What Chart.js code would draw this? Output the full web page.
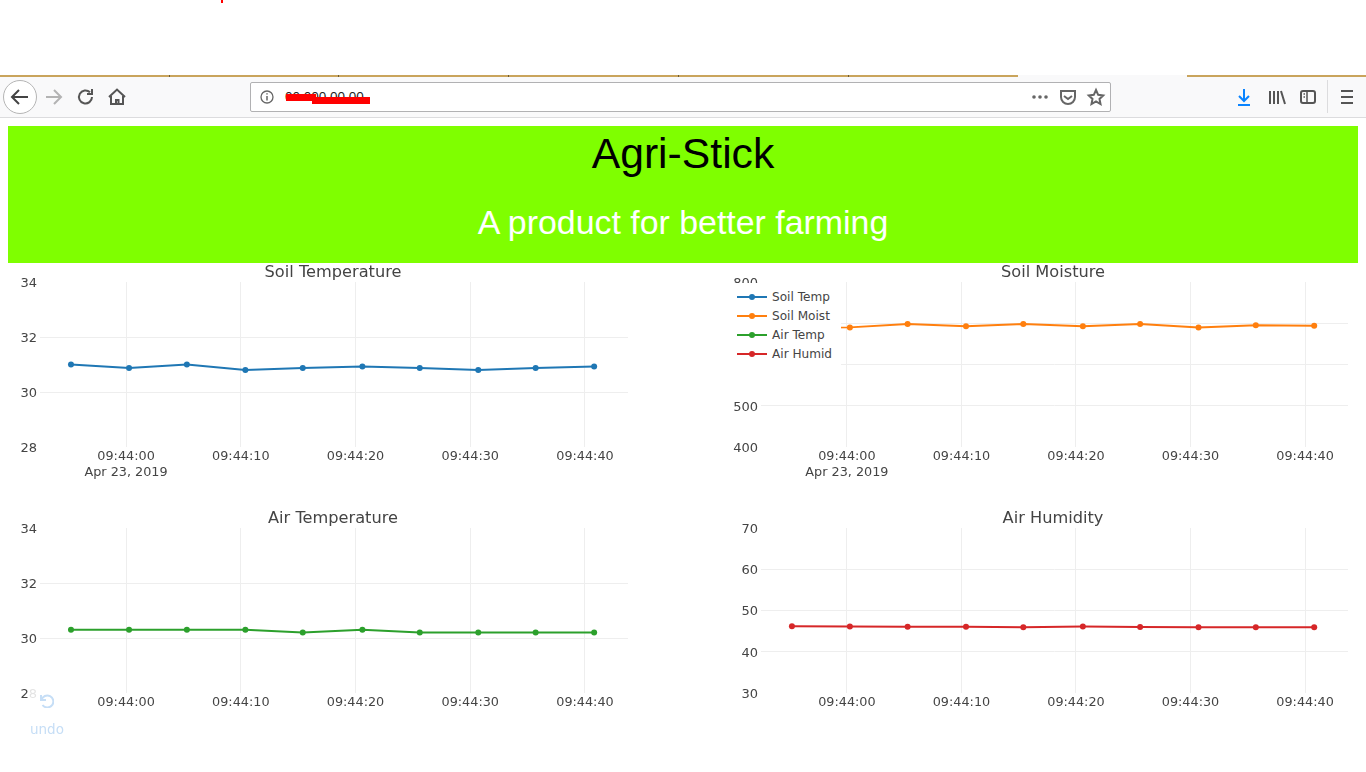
<!DOCTYPE html>
<html>
<head>
<meta charset="utf-8">
<title>Agri-Stick</title>
<script src="https://cdn.jsdelivr.net/npm/chart.js@4"></script>
<style>
html, body { margin: 0; padding: 0; background: #fff; overflow: hidden; }
body { position: relative; width: 1366px; height: 772px; font-family: "DejaVu Sans", sans-serif; }
.abs { position: absolute; }
canvas.panel { position: absolute; }
#speck { left: 221px; top: 0; width: 2px; height: 3px; background: #f00; }
#tab-line { left: 0; top: 75px; width: 1366px; height: 2px; background: #c9a45c; }
#tab-gap { left: 1018px; top: 75px; width: 169px; height: 2px; background: #f9f9fa; }
.tab-tick { top: 75px; width: 1px; height: 2px; background: #6b5a33; }
#toolbar { left: 0; top: 77px; width: 1366px; height: 40px; background: #f9f9fa; border-bottom: 1px solid #dcdcde; }
#urlbar { left: 250px; top: 82px; width: 859px; height: 28px; background: #fff; border: 1px solid #b1b1b3; border-radius: 2px; }
#urltext { left: 285px; top: 89px; font: 13.500px "Liberation Sans", sans-serif; color: #222; }
#banner { left: 8px; top: 126px; width: 1350px; height: 137px; background: #7fff00; text-align: center; font-family: "Liberation Sans", Arial, sans-serif; }
#banner h1 { position: absolute; left: 0; right: 0; top: -1px; margin: 0; font-size: 42.700px; line-height: 56px; font-weight: normal; color: #000; }
#banner h2 { position: absolute; left: 0; right: 0; top: 73px; margin: 0; font-size: 33.900px; line-height: 46px; font-weight: normal; color: #fff; }
#legend { left: 733px; top: 283px; width: 108px; height: 90px; background: #fff; font-size: 12.100px; color: #444; }
#legend div { position: absolute; left: 39px; white-space: nowrap; line-height: 16px; }
#legend svg { position: absolute; left: 4px; top: 0; }
#undo-box { left: 28px; top: 684px; width: 34px; height: 56px; background: rgba(255,255,255,.85); }
#undo-text { left: 30px; top: 721px; width: 32px; text-align: center; font-size: 13.500px; color: #c6def6; }
</style>
</head>
<body>
<div class="abs" id="speck"></div>
<div class="abs" id="tab-line"></div>
<div class="abs" id="tab-gap"></div>
<div class="abs tab-tick" style="left:169px"></div>
<div class="abs tab-tick" style="left:338px"></div>
<div class="abs tab-tick" style="left:508px"></div>
<div class="abs tab-tick" style="left:678px"></div>
<div class="abs tab-tick" style="left:848px"></div>
<div class="abs" id="toolbar"></div>
<div class="abs" id="urlbar"></div>
<div class="abs" id="urltext">00.000.00.00</div>

<svg class="abs" style="left:0;top:76px" width="1366" height="42" fill="none" stroke="#555" stroke-width="2">
  <circle cx="20" cy="21" r="16.500" fill="#fff" stroke="#b5b5b5" stroke-width="1"/>
  <path d="M28 21H12M19 14l-7 7 7 7" stroke="#444"/>
  <path d="M61 21H46M54 14l7 7-7 7" stroke="#b3b3b3"/>
  <path d="M92 21a6.500 6.500 0 1 1-2-4.700M92 13v5h-5"/>
  <path d="M109 21l8-7.500 8 7.500M111 20v8h12v-8M116 28v-4h2.500v4"/>
  <circle cx="267" cy="21" r="6" stroke="#666" stroke-width="1.300"/>
  <path d="M267 20v4.500M267 17.300v1.200" stroke="#666" stroke-width="1.500"/>
  <path d="M286 21.500H316" stroke="#f00" stroke-width="7"/>
  <path d="M312 24.500H370" stroke="#f00" stroke-width="7"/>
  <circle cx="1034" cy="21" r="1.800" fill="#666" stroke="none"/>
  <circle cx="1040" cy="21" r="1.800" fill="#666" stroke="none"/>
  <circle cx="1046" cy="21" r="1.800" fill="#666" stroke="none"/>
  <path d="M1061 15h14v6a7 7 0 0 1-14 0zM1064 20l4 3 4-3" stroke="#666"/>
  <path d="M1096 14l2.200 4.800 5 .6-3.700 3.500 1 5.100-4.500-2.600-4.500 2.600 1-5.100-3.700-3.500 5-.6z" stroke="#666"/>
  <path d="M1244 13v12M1239 20l5 5 5-5M1238 29h12" stroke="#0a84ff"/>
  <path d="M1270 15v13M1274 15v13M1278 15v13M1281 15l4 13" stroke="#555"/>
  <rect x="1301" y="15" width="14" height="12" rx="2"/>
  <path d="M1307 15v12M1303.500 18h1.500M1303.500 21h1.500" stroke-width="1.500"/>
  <path d="M1327.500 4v33" stroke="#dcdcde" stroke-width="1"/>
  <path d="M1341 15h12M1341 21h12M1341 27h12"/>
</svg>

<div class="abs" id="banner">
  <h1>Agri-Stick</h1>
  <h2>A product for better farming</h2>
</div>

<canvas class="panel" id="soilTempChart"></canvas>
<canvas class="panel" id="soilMoistChart"></canvas>
<canvas class="panel" id="airTempChart"></canvas>
<canvas class="panel" id="airHumidChart"></canvas>

<div class="abs" id="legend"></div>

<div class="abs" id="undo-box"></div>
<svg class="abs" style="left:38px;top:692px" width="16" height="16" fill="none" stroke="#c6def6" stroke-width="2">
  <path d="M3 3v5h5M3.500 8a6 6 0 1 1 1 5"/>
</svg>
<div class="abs" id="undo-text">undo</div>

<script>
'use strict';
const sampleSeconds = [-4.8, 0.26, 5.3, 10.4, 15.4, 20.6, 25.6, 30.7, 35.7, 40.8];
const soilTemp = [31, 30.87, 31, 30.8, 30.87, 30.93, 30.87, 30.8, 30.87, 30.93];
const soilMoist = [689, 690, 698, 693, 698, 693, 698, 690, 695, 694];
const airTemp = [30.3, 30.3, 30.3, 30.3, 30.2, 30.3, 30.2, 30.2, 30.2, 30.2];
const airHumid = [46.2, 46.1, 46.05, 46.05, 45.95, 46.1, 46, 45.95, 45.95, 45.95];
const xTickLabels = ['09:44:00', '09:44:10', '09:44:20', '09:44:30', '09:44:40'];
const dateLabel = 'Apr 23, 2019';
const legendNames = ['Soil Temp', 'Soil Moist', 'Air Temp', 'Air Humid'];
const legendColors = ['#1f77b4', '#ff7f0e', '#2ca02c', '#d62728'];

const TEXT = '#444';
const GRID = '#eeeeee';
Chart.defaults.font.family = "'DejaVu Sans', sans-serif";
Chart.defaults.color = TEXT;
Chart.defaults.animation = false;

function makePanel(id, cfg) {
    const el = document.getElementById(id);
    el.style.left = cfg.left + 'px';
    el.style.top = cfg.top + 'px';
    el.style.width = '666px';
    el.style.height = '219px';
    new Chart(el, {
        type: 'line',
        data: {
            datasets: [{
                data: cfg.values.map((v, i) => ({ x: sampleSeconds[i], y: v })),
                borderColor: cfg.color,
                backgroundColor: cfg.color,
                borderWidth: 2,
                pointRadius: 3,
                pointBorderWidth: 0,
                tension: 0,
            }],
        },
        options: {
            responsive: false,
            layout: { padding: 0 },
            plugins: {
                legend: { display: false },
                tooltip: { enabled: false },
                title: {
                    display: true,
                    text: cfg.title,
                    color: TEXT,
                    padding: { top: 1, bottom: -1 },
                    font: { size: 16.2, weight: 'normal', lineHeight: '20px' },
                },
            },
            scales: {
                x: {
                    type: 'linear',
                    min: -7.5,
                    max: 43.75,
                    afterFit: s => { s.height = 34; },
                    border: { display: false },
                    grid: { color: GRID, drawTicks: false },
                    ticks: {
                        stepSize: 10,
                        includeBounds: false,
                        autoSkip: false,
                        maxRotation: 0,
                        padding: 2,
                        font: { size: 12.8, lineHeight: '16px' },
                        callback: v => {
                            const label = xTickLabels[v / 10];
                            return cfg.showDate && v === 0 ? [label, dateLabel] : label;
                        },
                    },
                },
                y: {
                    min: cfg.min,
                    max: cfg.max,
                    afterFit: s => { s.width = cfg.axisWidth; },
                    border: { display: false },
                    grid: {
                        drawTicks: false,
                        color: c => (c.tick.value === cfg.min || c.tick.value === cfg.max ? 'transparent' : GRID),
                    },
                    ticks: { stepSize: cfg.step, padding: 3, labelOffset: 1.5, font: { size: 13 } },
                },
                // empty axis, keeps the right margin without moving the centred title
                rightGap: {
                    position: 'right',
                    afterFit: s => { s.width = 38; },
                    border: { display: false },
                    grid: { display: false },
                    ticks: { display: false },
                },
            },
        },
    });
}

makePanel('soilTempChart', { left: 0, top: 262, axisWidth: 40, title: 'Soil Temperature', values: soilTemp, color: legendColors[0], min: 28, max: 34, step: 2, showDate: true });
makePanel('soilMoistChart', { left: 720, top: 262, axisWidth: 41, title: 'Soil Moisture', values: soilMoist, color: legendColors[1], min: 400, max: 800, step: 100, showDate: true });
makePanel('airTempChart', { left: 0, top: 508, axisWidth: 40, title: 'Air Temperature', values: airTemp, color: legendColors[2], min: 28, max: 34, step: 2, showDate: false });
makePanel('airHumidChart', { left: 720, top: 508, axisWidth: 41, title: 'Air Humidity', values: airHumid, color: legendColors[3], min: 30, max: 70, step: 10, showDate: false });

// legend sits over the moisture panel, plotly style
const legendEl = document.getElementById('legend');
legendNames.forEach((name, i) => {
    const y = 6 + i * 19;
    const swatch = document.createElementNS('http://www.w3.org/2000/svg', 'svg');
    swatch.setAttribute('width', '30');
    swatch.setAttribute('height', '16');
    swatch.style.top = y + 'px';
    swatch.innerHTML = '<path d="M0 8H30" stroke="' + legendColors[i] + '" stroke-width="2"/><circle cx="15" cy="8" r="3" fill="' + legendColors[i] + '"/>';
    legendEl.appendChild(swatch);
    const row = document.createElement('div');
    row.textContent = name;
    row.style.top = y + 'px';
    legendEl.appendChild(row);
});
</script>
</body>
</html>
